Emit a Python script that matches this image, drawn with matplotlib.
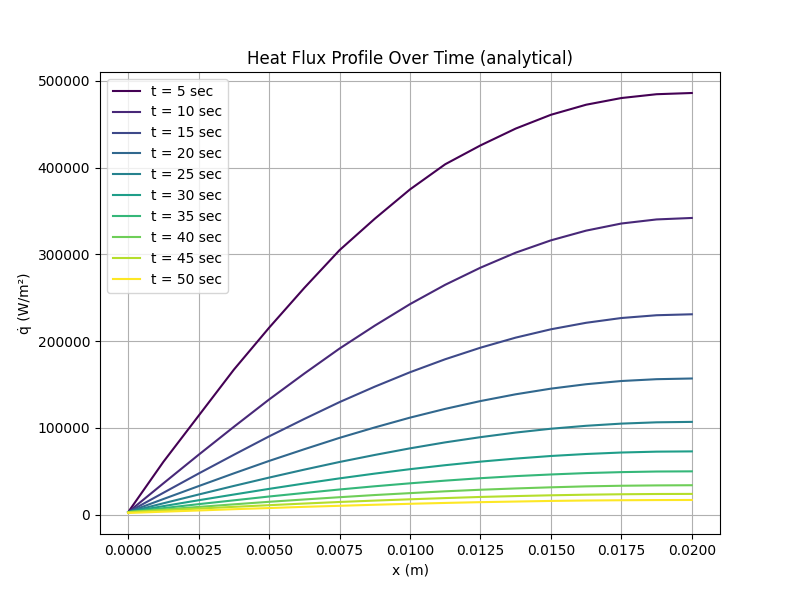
import numpy as np
import matplotlib
matplotlib.use("Agg")
import matplotlib.pyplot as plt

x = [i * 0.00125 for i in range(17)]
labels = [f"t = {t} sec" for t in [5, 10, 15, 20, 25, 30, 35, 40, 45, 50]]
q5 = [3000, 61000, 114100, 167200, 215500, 261400, 304900, 341100, 374900, 403900, 425600, 445000, 460900, 472500, 480200, 484600, 486000]
q10 = [3000, 36200, 69100, 101300, 132800, 162700, 191500, 217900, 242700, 265000, 284700, 302000, 316200, 327400, 335600, 340300, 342000]
q15 = [3000, 25300, 47500, 69100, 90300, 110400, 129800, 147600, 164200, 179200, 192500, 204100, 213700, 221200, 226700, 229900, 231000]
q20 = [3000, 18100, 33000, 47700, 62000, 75500, 88600, 100600, 111900, 122000, 131000, 138800, 145300, 150400, 154100, 156200, 157000]
q25 = [3000, 13200, 23300, 33200, 42800, 52000, 60800, 68900, 76500, 83400, 89400, 94700, 99100, 102500, 105000, 106500, 107000]
q30 = [3000, 9900, 16700, 23300, 29800, 36000, 41900, 47400, 52500, 57100, 61200, 64700, 67700, 70000, 71700, 72700, 73000]
q35 = [3000, 7600, 12200, 16600, 21000, 25100, 29100, 32800, 36200, 39300, 42100, 44500, 46400, 48000, 49100, 49800, 50000]
q40 = [3000, 6000, 9000, 12000, 14900, 17600, 20200, 22700, 24900, 27000, 28800, 30300, 31600, 32700, 33400, 33800, 34000]
q45 = [3000, 5100, 7100, 9100, 11000, 12900, 14700, 16300, 17800, 19200, 20500, 21500, 22400, 23100, 23600, 23900, 24000]
q50 = [2000, 3500, 4900, 6400, 7700, 9100, 10300, 11500, 12600, 13600, 14500, 15200, 15900, 16400, 16700, 16900, 17000]
series = [q5, q10, q15, q20, q25, q30, q35, q40, q45, q50]

fig, ax = plt.subplots(figsize=(8, 6), dpi=100)
colors = plt.cm.viridis(np.linspace(0, 1, len(series)))
for s, lab, c in zip(series, labels, colors):
    ax.plot(x, s, color=c, label=lab)
ax.set_title("Heat Flux Profile Over Time (analytical)")
ax.set_xlabel("x (m)")
ax.set_ylabel("q̇ (W/m²)")
ax.grid(True)
ax.legend(loc="upper left")
fig.savefig("out.png")
